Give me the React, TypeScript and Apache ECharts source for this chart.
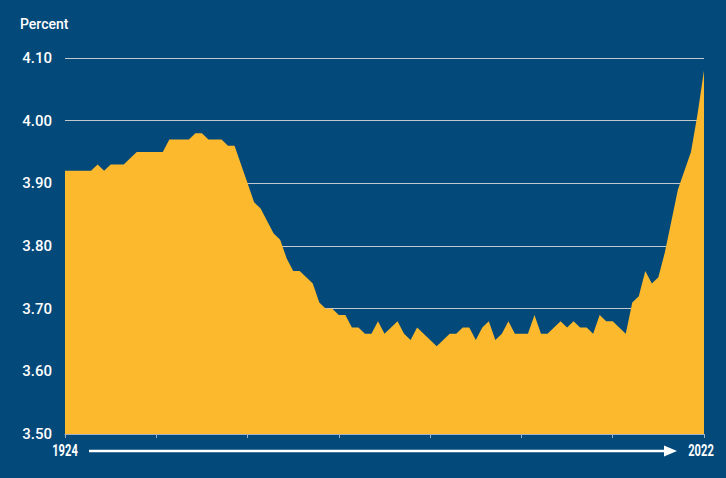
import React, { useEffect, useRef } from "react";
import * as echarts from "echarts";

const startYear = 1924;
const endYear = 2022;
const years: string[] = [];
for (let y = startYear; y <= endYear; y++) years.push(String(y));

// Percent, 1924..2022
const values: number[] = [
  3.92, 3.92, 3.92, 3.92, 3.92, 3.93, 3.92, 3.93, 3.93, 3.93,
  3.94, 3.95, 3.95, 3.95, 3.95, 3.95, 3.97, 3.97, 3.97, 3.97,
  3.98, 3.98, 3.97, 3.97, 3.97, 3.96, 3.96, 3.93, 3.90, 3.87,
  3.86, 3.84, 3.82, 3.81, 3.78, 3.76, 3.76, 3.75, 3.74, 3.71,
  3.70, 3.70, 3.69, 3.69, 3.67, 3.67, 3.66, 3.66, 3.68, 3.66,
  3.67, 3.68, 3.66, 3.65, 3.67, 3.66, 3.65, 3.64, 3.65, 3.66,
  3.66, 3.67, 3.67, 3.65, 3.67, 3.68, 3.65, 3.66, 3.68, 3.66,
  3.66, 3.66, 3.69, 3.66, 3.66, 3.67, 3.68, 3.67, 3.68, 3.67,
  3.67, 3.66, 3.69, 3.68, 3.68, 3.67, 3.66, 3.71, 3.72, 3.76,
  3.74, 3.75, 3.79, 3.84, 3.89, 3.92, 3.95, 4.01, 4.08,
];

const yMin = 3.5;
const yMax = 4.1;
const yStep = 0.1;

const BG = "#03497a";
const YELLOW = "#fcb92d";

function yearLabel(text: string, x: number) {
  return {
    type: "group",
    x,
    y: 450,
    scaleX: 0.7,
    children: [
      {
        type: "text",
        x: 0,
        y: 0,
        style: {
          text,
          fill: "#ffffff",
          font: "bold 16px Roboto, sans-serif",
          textAlign: "center",
          textVerticalAlign: "middle",
        },
      },
    ],
  };
}

export default function App() {
  const ref = useRef<HTMLDivElement>(null);
  useEffect(() => {
    if (!ref.current) return;
    const chart = echarts.init(ref.current, null, { renderer: "svg" });
    chart.setOption({
      animation: false,
      backgroundColor: BG,
      grid: { left: 65, right: 22, top: 58, bottom: 44, containLabel: false },
      xAxis: {
        type: "category",
        data: years,
        boundaryGap: false,
        axisLine: { show: true, lineStyle: { color: "#9fb2c6", width: 1 } },
        axisTick: {
          show: true,
          interval: 13,
          length: 4,
          lineStyle: { color: "#9fb2c6", width: 1 },
        },
        axisLabel: { show: false },
        splitLine: { show: false },
      },
      yAxis: {
        type: "value",
        min: yMin,
        max: yMax,
        interval: yStep,
        axisLine: { show: false },
        axisTick: { show: false },
        axisLabel: {
          color: "#ffffff",
          fontFamily: "Roboto, sans-serif",
          fontWeight: 500,
          fontSize: 15,
          margin: 13,
          formatter: (v: number) => v.toFixed(2),
        },
        splitLine: { show: true, lineStyle: { color: "#c4c9cf", width: 1 } },
      },
      series: [
        {
          type: "line",
          data: values,
          symbol: "none",
          lineStyle: { width: 0 },
          areaStyle: { color: YELLOW, opacity: 1, origin: "start" },
          silent: true,
        },
      ],
      graphic: [
        {
          type: "text",
          left: 20,
          top: 17,
          style: {
            text: "Percent",
            fill: "#ffffff",
            font: "500 14px Roboto, sans-serif",
          },
        },
        yearLabel(years[0], 65),
        yearLabel(years[years.length - 1], 701),
        {
          type: "line",
          shape: { x1: 89, y1: 451, x2: 668, y2: 451 },
          style: { stroke: "#ffffff", lineWidth: 2.5 },
        },
        {
          type: "polygon",
          shape: { points: [[664, 445.5], [677, 451], [664, 456.5]] },
          style: { fill: "#ffffff" },
        },
      ],
    });
    return () => chart.dispose();
  }, []);
  return (
    <div
      ref={ref}
      style={{ position: "fixed", left: 0, top: 0, width: 726, height: 478 }}
    />
  );
}
